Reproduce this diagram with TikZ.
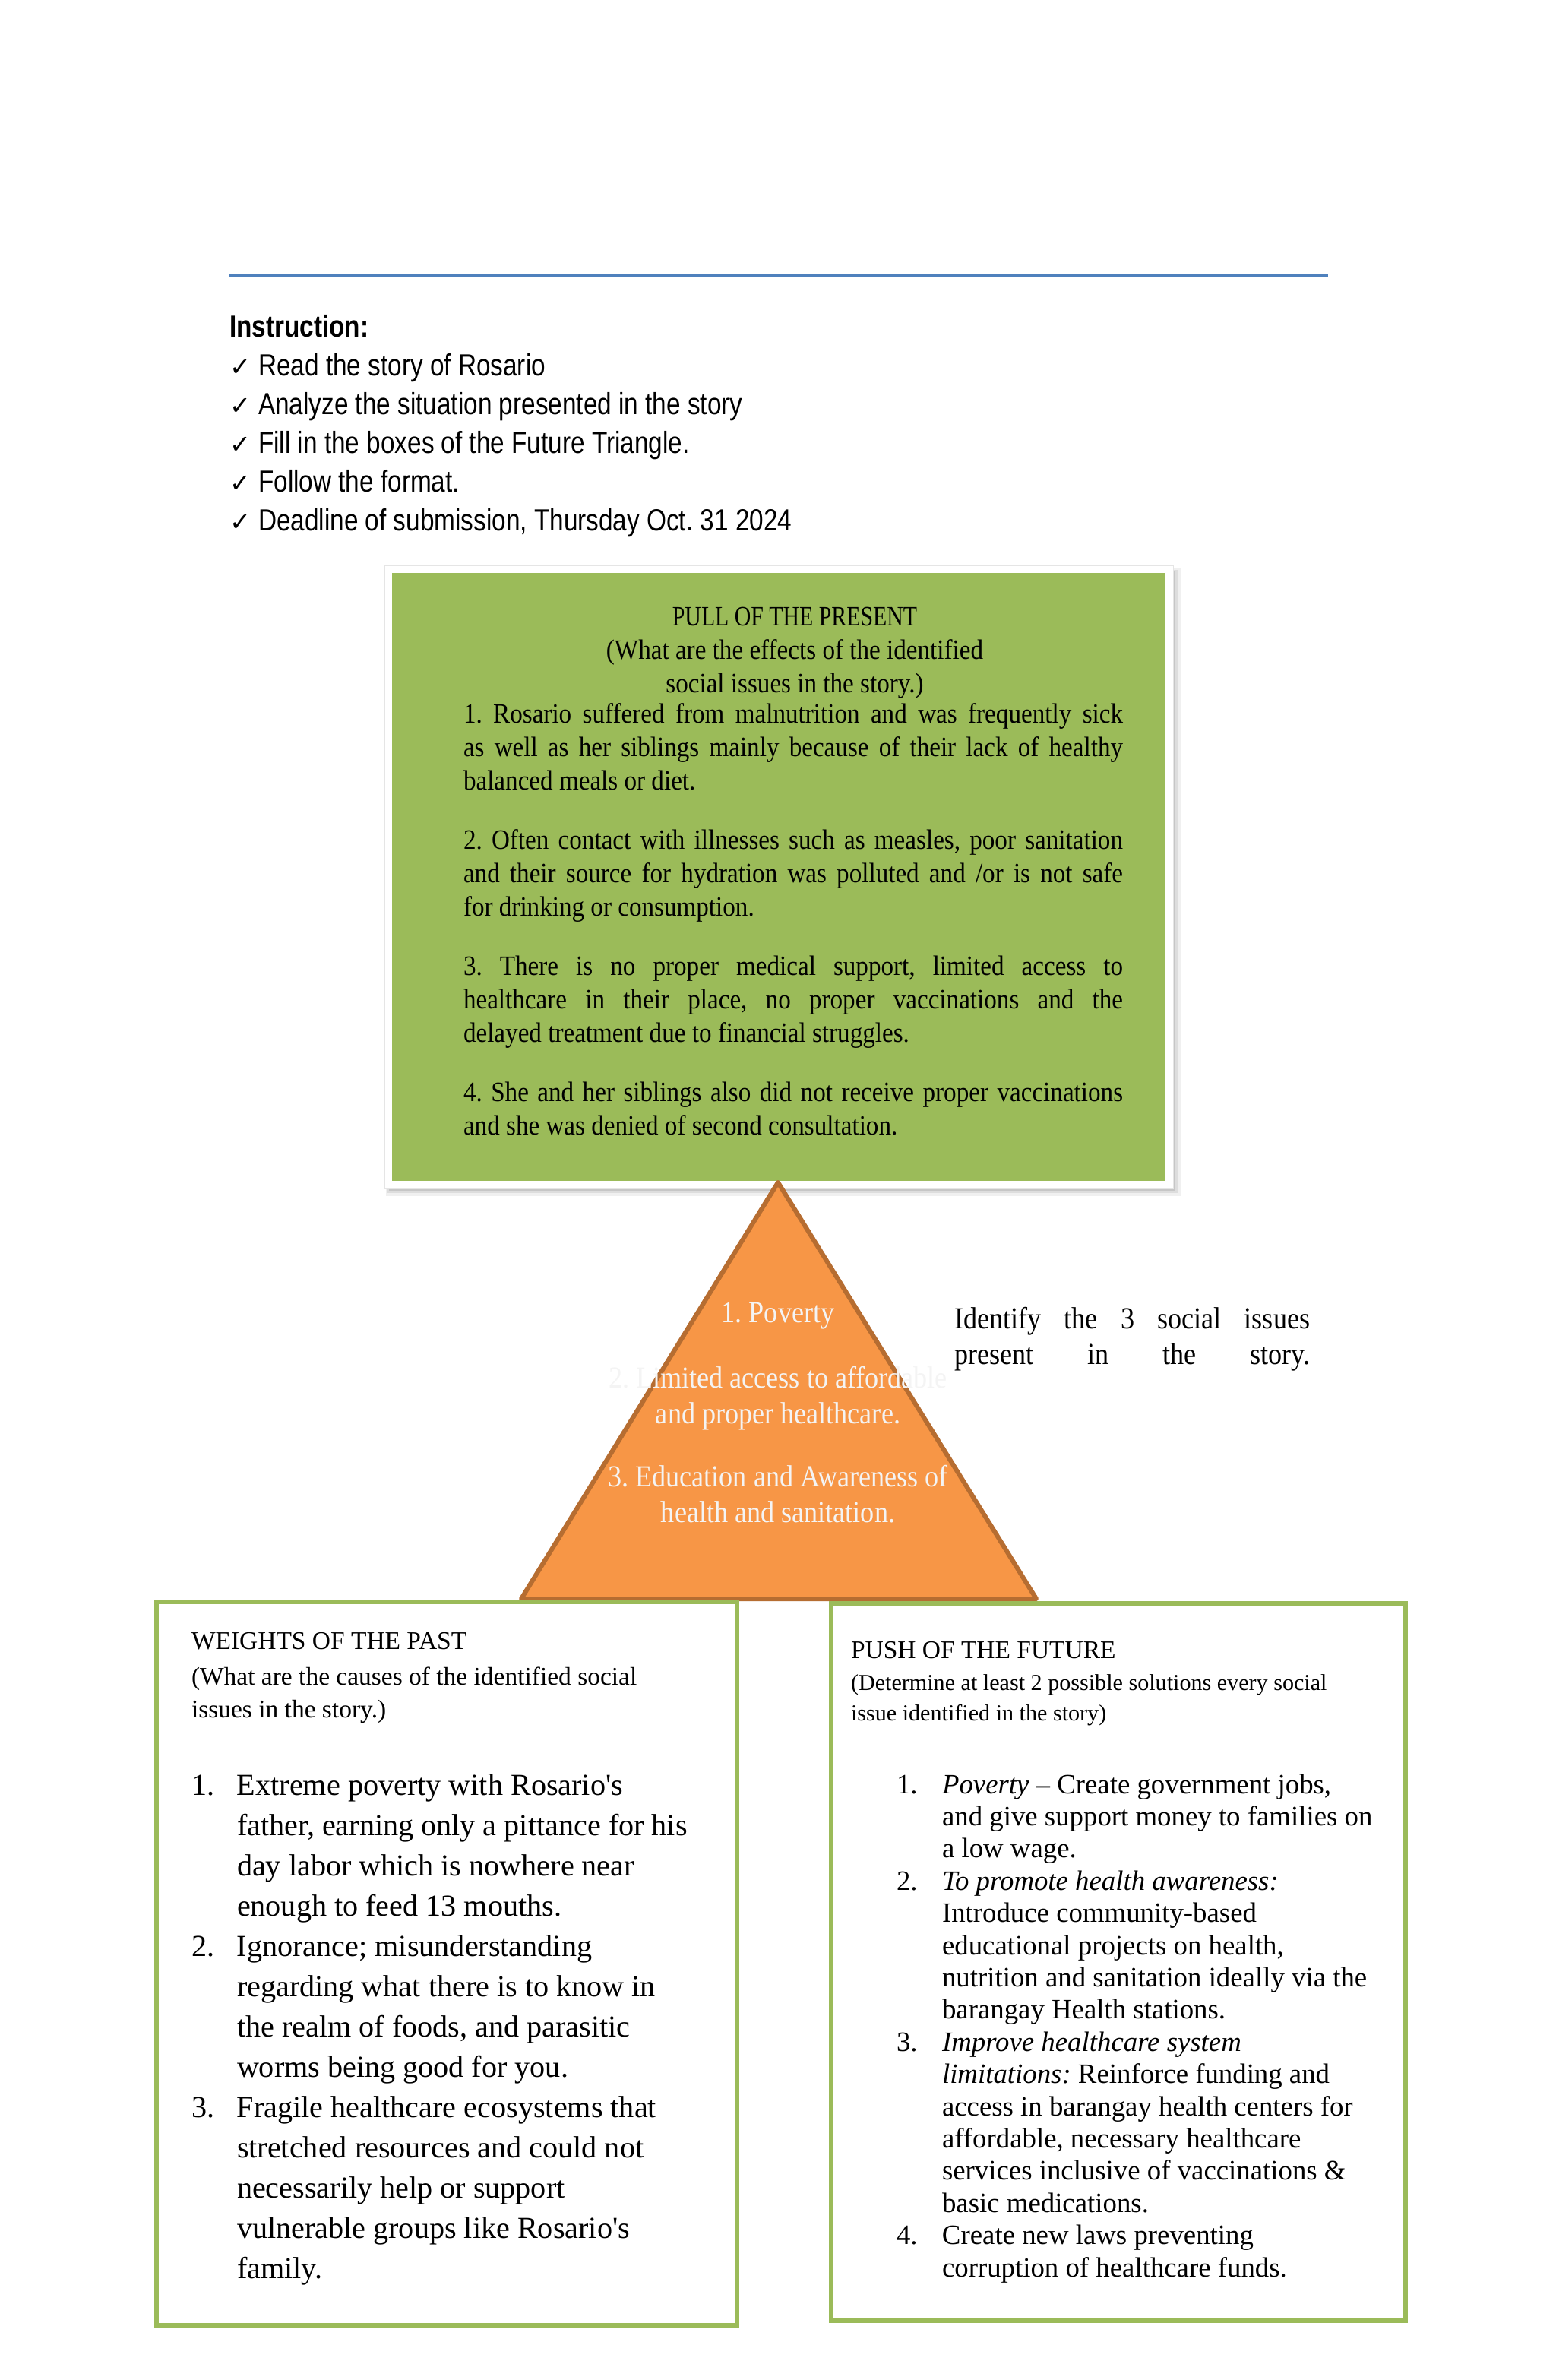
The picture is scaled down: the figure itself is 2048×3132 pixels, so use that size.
\documentclass[tikz,border=0pt]{standalone}
\usepackage{fontspec}
\setmainfont{Liberation Serif}
\newfontfamily\narrowsans{Liberation Sans}[FakeStretch=0.83]
\newfontfamily\condserif{Liberation Serif}[FakeStretch=0.9]
\newfontfamily\condcaps{Liberation Serif}[FakeStretch=0.81]
\newfontfamily\symbolfont{DejaVu Sans}
\definecolor{pullgreen}{HTML}{9BBB59}
\definecolor{triorange}{HTML}{F79646}
\definecolor{triborder}{HTML}{B66D31}
\definecolor{ruleblue}{HTML}{4F81BD}
\definecolor{paletext}{HTML}{F4F4F4}
\newcommand\chkmk{\makebox[11.4pt][l]{\symbolfont\fontsize{10}{10}\selectfont ✓}}
\newcommand\pastnum[1]{\makebox[17.93pt][l]{#1}}
\newcommand\pastind{\hspace*{17.93pt}}
\newcommand\sq{\textquotesingle}
\newcommand\plainsp{\spaceskip=0pt\xspaceskip=0pt\relax}
\begin{document}
\frenchspacing
\begin{tikzpicture}[x=0.298828pt,y=-0.298828pt,
  every node/.style={inner sep=0pt, outer sep=0pt},
  instr/.style={font={\narrowsans\fontsize{12}{15.2}\selectfont\frenchspacing}, text width=300pt, align=justify},
  pulltitle/.style={font={\condserif\fontsize{11}{13.15}\selectfont}, text width=259.4pt, align=justify},
  pullbody/.style={font={\condserif\fontsize{11}{13.15}\selectfont\frenchspacing}, text width=259.4pt, align=justify},
  tritext/.style={font={\condserif\fontsize{12}{14.3}\selectfont\frenchspacing}, text=paletext, text width=220pt, align=justify},
  identtext/.style={font={\condserif\fontsize{12}{14.3}\selectfont}, text width=139.9pt, align=justify},
  boxhead/.style={font={\fontsize{10}{12}\selectfont}},
  pastsub/.style={font={\fontsize{10}{13.1}\selectfont}, text width=214pt, align=justify},
  pastlist/.style={font={\fontsize{12}{15.85}\selectfont\frenchspacing}, text width=214pt, align=justify},
  futsub/.style={font={\fontsize{9}{12}\selectfont}, text width=215pt, align=justify},
  futlist/.style={font={\fontsize{11}{12.67}\selectfont\frenchspacing}, text width=200pt, align=justify},
  greenframe/.style={draw=pullgreen, line width=1.8pt}]
\useasboundingbox[fill=white] (0,0) rectangle (2048,3132);

% top rule
\draw[ruleblue, line width=1pt] (302,362) -- (1748,362);

% instructions
\node[instr, anchor=base west] (instr) at (302,444) {\plainsp\textbf{Instruction:}\\
\chkmk Read the story of Rosario\\
\chkmk Analyze the situation presented in the story\\
\chkmk Fill in the boxes of the Future Triangle.\\
\chkmk Follow the format.\\
\chkmk Deadline of submission, Thursday Oct. 31 2024};

% pull of the present box
\fill[black, opacity=0.06] (508,748) rectangle (1554,1574);
\fill[black, opacity=0.08] (510,750) rectangle (1550,1570);
\fill[black, opacity=0.10] (512,752) rectangle (1547,1567);
\filldraw[fill=white, draw=black!10, line width=0.3pt] (506,744) rectangle (1544,1564);
\fill[pullgreen] (516,754) rectangle (1534,1554);

\node[pulltitle, anchor=base] (pulltitle) at (1046,823) {\plainsp\centering{\condcaps PULL OF THE PRESENT}\\(What are the effects of the identified\\social issues in the story.)\par};
\node[pullbody, anchor=base west] (pull1) at (610,951) {\plainsp 1. Rosario suffered from malnutrition and was frequently sick\linebreak as well as her siblings mainly because of their lack of healthy\linebreak balanced meals or diet.};
\node[pullbody, anchor=base west] (pull2) at (610,1117) {\plainsp 2. Often contact with illnesses such as measles, poor sanitation\linebreak and their source for hydration was polluted and /or is not safe\linebreak for drinking or consumption.};
\node[pullbody, anchor=base west] (pull3) at (610,1283) {\plainsp 3. There is no proper medical support, limited access to\linebreak healthcare in their place, no proper vaccinations and the\linebreak delayed treatment due to financial struggles.};
\node[pullbody, anchor=base west] (pull4) at (610,1449) {\plainsp 4. She and her siblings also did not receive proper vaccinations\linebreak and she was denied of second consultation.};

% triangle
\draw[fill=triorange, draw=triborder, line width=1.8pt, line join=round] (1024,1556) -- (1364,2104) -- (686,2104) -- cycle;
\node[tritext, anchor=base] (issue1) at (1024,1740) {\plainsp\centering 1. Poverty\par};
\node[tritext, anchor=base] (issue2) at (1024,1826) {\plainsp\centering 2. Limited access to affordable\\and proper healthcare.\par};
\node[tritext, anchor=base] (issue3) at (1024,1956) {\plainsp\centering 3. Education and Awareness of\\health and sanitation.\par};

\node[identtext, anchor=base west] (identify) at (1256,1748) {\plainsp Identify the 3 social issues\linebreak present\hfill in\hfill the\hfill story.};

% weights of the past
\draw[greenframe] (206,2108) rectangle (970,3060);
\node[boxhead, anchor=base west] (pasthead) at (252,2170) {WEIGHTS OF THE PAST};
\node[pastsub, anchor=base west] (pastsub) at (252,2217) {\plainsp(What are the causes of the identified social\\issues in the story.)};
\node[pastlist, anchor=base west] (pastlist) at (252,2362) {\plainsp\pastnum{1.}Extreme poverty with Rosario\sq s\\
\pastind father, earning only a pittance for his\\
\pastind day labor which is nowhere near\\
\pastind enough to feed 13 mouths.\\
\pastnum{2.}Ignorance; misunderstanding\\
\pastind regarding what there is to know in\\
\pastind the realm of foods, and parasitic\\
\pastind worms being good for you.\\
\pastnum{3.}Fragile healthcare ecosystems that\\
\pastind stretched resources and could not\\
\pastind necessarily help or support\\
\pastind vulnerable groups like Rosario\sq s\\
\pastind family.};

% push of the future
\draw[greenframe] (1094,2110) rectangle (1850,3054);
\node[boxhead, anchor=base west] (futhead) at (1120,2182) {PUSH OF THE FUTURE};
\node[futsub, anchor=base west] (futsub) at (1120,2224) {\plainsp(Determine at least 2 possible solutions every social\\issue identified in the story)};
\node[futlist, anchor=base west] (futlist) at (1180,2360) {\plainsp\pastnum{1.}\textit{Poverty} -- Create government jobs,\\
\pastind and give support money to families on\\
\pastind a low wage.\\
\pastnum{2.}\textit{To promote health awareness:}\\
\pastind Introduce community-based\\
\pastind educational projects on health,\\
\pastind nutrition and sanitation ideally via the\\
\pastind barangay Health stations.\\
\pastnum{3.}\textit{Improve healthcare system}\\
\pastind \textit{limitations:} Reinforce funding and\\
\pastind access in barangay health centers for\\
\pastind affordable, necessary healthcare\\
\pastind services inclusive of vaccinations \&\\
\pastind basic medications.\\
\pastnum{4.}Create new laws preventing\\
\pastind corruption of healthcare funds.};
\end{tikzpicture}
\end{document}
